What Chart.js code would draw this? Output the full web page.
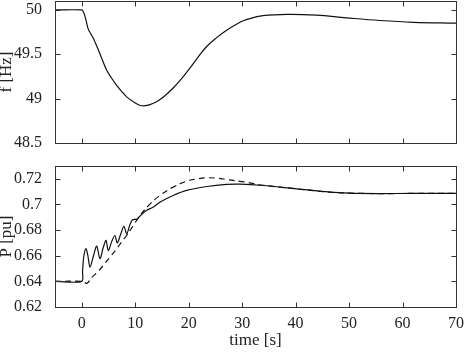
<!DOCTYPE html>
<html><head><meta charset="utf-8">
<script src="https://cdn.jsdelivr.net/npm/chart.js@4/dist/chart.umd.min.js"></script>
<style>
html,body{margin:0;padding:0;background:#fff;}
#wrap{position:relative;width:474px;height:356px;overflow:hidden;}
canvas{position:absolute;left:0;top:0;}
</style>
</head><body>
<div id="wrap"><canvas id="c1" width="474" height="356"></canvas><canvas id="c2" width="474" height="356"></canvas></div>
<script>
// ---- data ----
const xTicks = [0, 10, 20, 30, 40, 50, 60, 70];
const fTicks = [48.5, 49, 49.5, 50];
const pTicks = [0.62, 0.64, 0.66, 0.68, 0.7, 0.72];

const fTime = [-5, 0, 0.2, 0.6, 0.93, 1.24, 1.7, 2.17, 2.6, 3.1, 3.9, 4.67, 5.6, 6.54, 7.5, 8.4, 9.8, 11.2, 12.6, 14.0, 15.5, 17.1, 18.6, 20.2, 21.8, 23.4, 25.3, 27.1, 29.6, 30.8, 33.9, 38.9, 43.9, 49.5, 55.8, 62, 70];
const fVal  = [50, 50, 49.99, 49.93, 49.85, 49.78, 49.73, 49.68, 49.62, 49.55, 49.43, 49.32, 49.23, 49.15, 49.08, 49.02, 48.96, 48.92, 48.93, 48.965, 49.03, 49.12, 49.22, 49.34, 49.47, 49.59, 49.69, 49.77, 49.86, 49.89, 49.935, 49.95, 49.94, 49.91, 49.88, 49.86, 49.85];

const pTime = [-5, 0, 0.15, 0.4, 0.8, 1.15, 1.55, 2.2, 2.8, 3.42, 4.0, 4.54, 4.97, 5.6, 6.2, 6.65, 7.3, 7.9, 8.4, 9.0, 9.5, 10.3, 10.9, 12.1, 13.4, 14.6, 17.1, 19.6, 23.4, 27.1, 29.6, 33.9, 40.2, 46.4, 50.1, 55.8, 62, 70];
const pVal  = [0.64, 0.64, 0.648, 0.66, 0.6655, 0.66, 0.651, 0.66, 0.6675, 0.6577, 0.666, 0.672, 0.664, 0.671, 0.6758, 0.67, 0.677, 0.683, 0.677, 0.684, 0.688, 0.6885, 0.691, 0.6953, 0.698, 0.7018, 0.707, 0.711, 0.714, 0.7156, 0.7158, 0.7148, 0.7122, 0.7096, 0.7088, 0.7085, 0.7086, 0.7087];

const dTime = [-5, 0, 0.5, 1.0, 1.87, 2.9, 4.04, 5.3, 6.54, 7.5, 8.4, 9.65, 10.9, 12.8, 14.6, 17.1, 19.6, 21.5, 23.4, 25.3, 27.1, 29.6, 30.8, 33.9, 40.2, 46.4, 50.1, 55.8, 62, 70];
const dVal  = [0.64, 0.64, 0.6392, 0.6385, 0.643, 0.647, 0.6525, 0.659, 0.6655, 0.671, 0.6758, 0.6836, 0.6914, 0.7005, 0.707, 0.7135, 0.7181, 0.7199, 0.7208, 0.7205, 0.7195, 0.718, 0.7174, 0.715, 0.7122, 0.7096, 0.7088, 0.7085, 0.7086, 0.7087];

// ---- helpers ----
const pts = (t, v) => t.map((x, i) => ({x: x, y: v[i]}));
const fmt = v => String(+(+v).toFixed(4));

Chart.defaults.font.family = "'Liberation Serif', 'Times New Roman', serif";
Chart.defaults.font.size = 16;
Chart.defaults.color = '#222';

const frame = {
  id: 'frame',
  afterDraw(chart, args, opts) {
    const {ctx, chartArea: a, scales} = chart;
    ctx.save();
    ctx.strokeStyle = '#333';
    ctx.lineWidth = 1;
    const L = Math.round(a.left) + 0.5, R = Math.round(a.right) + 0.5;
    const T = Math.round(a.top) + 0.5, B = Math.round(a.bottom) + 0.5;
    ctx.strokeRect(L, T, R - L, B - T);
    ctx.beginPath();
    opts.xt.forEach(v => {
      const x = Math.round(scales.x.getPixelForValue(v)) + 0.5;
      ctx.moveTo(x, B); ctx.lineTo(x, B - 5);
      ctx.moveTo(x, T); ctx.lineTo(x, T + 5);
    });
    opts.yt.forEach(v => {
      const y = Math.round(scales.y.getPixelForValue(v)) + 0.5;
      ctx.moveTo(L, y); ctx.lineTo(L + 5, y);
      ctx.moveTo(R, y); ctx.lineTo(R - 5, y);
    });
    ctx.stroke();
    ctx.restore();
  }
};

const lineDs = (data, dash, tension) => ({
  data: data,
  borderColor: '#111',
  borderWidth: 1.2,
  borderDash: dash || [],
  pointRadius: 0,
  fill: false,
  tension: tension
});

const setTicks = arr => s => { s.ticks = arr.map(v => ({value: v})); };
const noPad = s => { s.paddingTop = 0; s.paddingBottom = 0; s.paddingLeft = 0; s.paddingRight = 0; };

// ---- top chart ----
new Chart(document.getElementById('c1'), {
  type: 'line',
  data: {datasets: [lineDs(pts(fTime, fVal), [], 0.4)]},
  plugins: [frame],
  options: {
    responsive: false, animation: false, devicePixelRatio: 1,
    layout: {padding: {top: 1, bottom: 213, left: 0, right: 18}},
    plugins: {legend: {display: false}, tooltip: {enabled: false}, frame: {xt: xTicks, yt: fTicks}},
    scales: {
      x: {type: 'linear', min: -5, max: 70,
          afterBuildTicks: setTicks(xTicks),
          ticks: {display: false}, grid: {display: false}, border: {display: false},
          afterFit: s => { s.height = 0; noPad(s); }},
      y: {type: 'linear', min: 48.5, max: 50.1,
          afterBuildTicks: setTicks(fTicks),
          ticks: {padding: 5, callback: v => fmt(v)},
          grid: {display: false}, border: {display: false},
          title: {display: true, text: 'f [Hz]', font: {size: 17, lineHeight: 1}, padding: {top: -2, bottom: 0}},
          afterFit: s => { s.width = 55; noPad(s); }}
    }
  }
});

// ---- bottom chart ----
new Chart(document.getElementById('c2'), {
  type: 'line',
  data: {datasets: [lineDs(pts(pTime, pVal), [], 0.3), lineDs(pts(dTime, dVal), [6, 4], 0.4)]},
  plugins: [frame],
  options: {
    responsive: false, animation: false, devicePixelRatio: 1,
    layout: {padding: {top: 166, bottom: 0, left: 0, right: 18}},
    plugins: {legend: {display: false}, tooltip: {enabled: false}, frame: {xt: xTicks, yt: pTicks}},
    scales: {
      x: {type: 'linear', min: -5, max: 70,
          afterBuildTicks: setTicks(xTicks),
          ticks: {padding: -1, maxRotation: 0, callback: v => fmt(v)},
          grid: {display: false}, border: {display: false},
          title: {display: true, text: 'time [s]', font: {size: 17}, padding: {top: 0, bottom: 5}},
          afterFit: s => { s.height = 49; noPad(s); }},
      y: {type: 'linear', min: 0.62, max: 0.73,
          afterBuildTicks: setTicks(pTicks),
          ticks: {padding: 5, callback: v => fmt(v)},
          grid: {display: false}, border: {display: false},
          title: {display: true, text: 'P [pu]', font: {size: 17, lineHeight: 1}, padding: {top: -2, bottom: 0}},
          afterFit: s => { s.width = 55; noPad(s); }}
    }
  }
});
</script>
</body></html>
